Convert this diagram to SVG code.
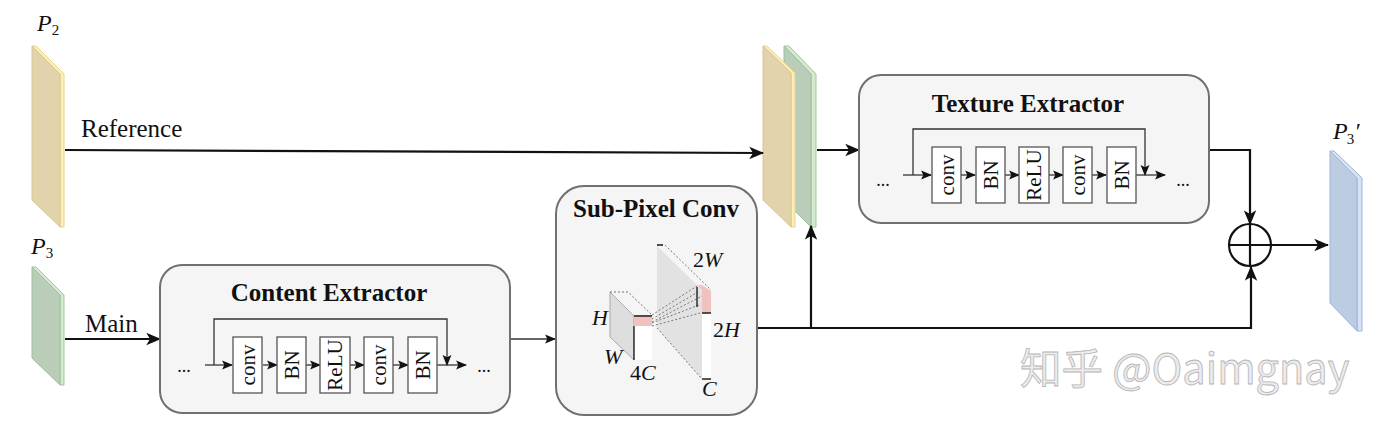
<svg xmlns="http://www.w3.org/2000/svg" width="1386" height="432" viewBox="0 0 1386 432">
<style>
text{font-family:"Liberation Serif",serif;fill:#111}
.panel{fill:#f5f5f5;stroke:#707070;stroke-width:2}
.title{font-size:25px;font-weight:bold;text-anchor:middle}
.lbl{font-size:25px}
.math{font-size:22px;font-style:italic}
.pl{font-size:24px;font-style:italic}
.sub{font-size:15px}
.step{fill:#fff;stroke:#555;stroke-width:1.3}
.steptxt{font-size:21px;text-anchor:middle;dominant-baseline:central}
.dots{font-size:18px;text-anchor:middle}
.wire{fill:none;stroke:#111;stroke-width:2.2}
.thin{fill:none;stroke:#333;stroke-width:1.3}
.y1{fill:#e3d3ad;stroke:#d8c690}.y2{fill:#fdeeb8;stroke:#e5d48e}
.g1{fill:#b9cdb9;stroke:#9cc09c}.g2{fill:#d5e8d0;stroke:#a3c79a}
.b1{fill:#bccde3;stroke:#9db4d6}.b2{fill:#d6e3f6;stroke:#9db4d6}
.dash{fill:none;stroke:#777;stroke-width:1;stroke-dasharray:2 2}
</style>
<defs>
<marker id="a" viewBox="0 0 12 10" refX="11" refY="5" markerWidth="15" markerHeight="13" markerUnits="userSpaceOnUse" orient="auto"><path d="M0 0L12 5L0 10L3 5Z" fill="#111"/></marker>
<marker id="s" viewBox="0 0 10 8" refX="9" refY="4" markerWidth="11" markerHeight="10" markerUnits="userSpaceOnUse" orient="auto"><path d="M0 0L10 4L0 8L2 4Z" fill="#111"/></marker>
</defs>

<g id="p2">
<path class="y2" d="M32 46L36 46L64 74L64 227L60 227L60 74Z"/>
<path class="y1" d="M32 46L60 74L60 227L32 200Z"/>
<text class="pl" x="37" y="31">P<tspan class="sub" dy="4" font-style="normal">2</tspan></text>
</g>
<g id="p3">
<path class="g2" d="M32 267L36 267L64 295L64 385L60 385L60 295Z"/>
<path class="g1" d="M32 267L60 295L60 385L32 358Z"/>
<text class="pl" x="31" y="254">P<tspan class="sub" dy="4" font-style="normal">3</tspan></text>
</g>
<g id="concat-green">
<path class="g2" d="M784 46L789 46L816 74L816 227L811 227L811 74Z"/>
<path class="g1" d="M784 46L811 74L811 227L784 200Z"/>
</g>
<g id="concat-yellow">
<path class="y2" d="M763 46L767 46L795 73L795 227L791 227L791 73Z"/>
<path class="y1" d="M763 46L791 73L791 227L763 200Z"/>
</g>
<g id="p3prime">
<path class="b2" d="M1330 151L1334 151L1362 178L1362 331L1357 331L1357 178Z"/>
<path class="b1" d="M1330 151L1357 178L1357 331L1330 303Z"/>
<text class="pl" x="1333" y="139">P<tspan class="sub" dy="5" dx="-1" font-style="normal">3</tspan><tspan dy="-5">′</tspan></text>
</g>

<g id="connectors">
<path class="wire" d="M65 150L763 153" marker-end="url(#a)"/>
<text class="lbl" x="81" y="137">Reference</text>
<path class="wire" d="M65 339L160 339" marker-end="url(#a)"/>
<text class="lbl" x="85" y="332">Main</text>
<path class="thin" d="M510 339L555 339" marker-end="url(#s)"/>
<path class="wire" d="M757 328L1251 328L1251 267" marker-end="url(#a)"/>
<path class="wire" d="M811 328L811 226" marker-end="url(#a)"/>
<path class="wire" d="M817 150L859 150" marker-end="url(#a)"/>
<path class="wire" d="M1209 150L1250 150L1250 224" marker-end="url(#a)"/>
<path class="wire" d="M1272 245L1328 245" marker-end="url(#a)"/>
</g>

<g id="content-extractor">
<rect class="panel" x="160" y="265" width="350" height="148" rx="22"/>
<text class="title" x="329" y="301">Content Extractor</text>
<text class="dots" x="184" y="372">...</text>
<text class="dots" x="484" y="372">...</text>
<path class="thin" d="M205 365L232 365" marker-end="url(#s)"/>
<path class="thin" d="M214 365L214 319L447 319L447 365" marker-end="url(#s)"/>
<path class="thin" d="M263 365L277 365" marker-end="url(#s)"/>
<path class="thin" d="M306 365L320 365" marker-end="url(#s)"/>
<path class="thin" d="M350 365L364 365" marker-end="url(#s)"/>
<path class="thin" d="M393 365L408 365" marker-end="url(#s)"/>
<path class="thin" d="M437 365L466 365" marker-end="url(#s)"/>
<rect class="step" x="233" y="337" width="29" height="56"/><text class="steptxt" transform="translate(248 365) rotate(-90)">conv</text>
<rect class="step" x="277" y="337" width="29" height="56"/><text class="steptxt" transform="translate(292 365) rotate(-90)">BN</text>
<rect class="step" x="320" y="337" width="30" height="56"/><text class="steptxt" transform="translate(335 365) rotate(-90)">ReLU</text>
<rect class="step" x="364" y="337" width="29" height="56"/><text class="steptxt" transform="translate(379 365) rotate(-90)">conv</text>
<rect class="step" x="408" y="337" width="29" height="56"/><text class="steptxt" transform="translate(423 365) rotate(-90)">BN</text>
</g>

<g id="texture-extractor">
<rect class="panel" x="859" y="75" width="350" height="148" rx="22"/>
<text class="title" x="1028" y="112">Texture Extractor</text>
<text class="dots" x="883" y="186">...</text>
<text class="dots" x="1183" y="186">...</text>
<path class="thin" d="M903 175L931 175" marker-end="url(#s)"/>
<path class="thin" d="M913 175L913 129L1145 129L1145 175" marker-end="url(#s)"/>
<path class="thin" d="M961 175L975 175" marker-end="url(#s)"/>
<path class="thin" d="M1005 175L1019 175" marker-end="url(#s)"/>
<path class="thin" d="M1048 175L1063 175" marker-end="url(#s)"/>
<path class="thin" d="M1092 175L1106 175" marker-end="url(#s)"/>
<path class="thin" d="M1136 175L1165 175" marker-end="url(#s)"/>
<rect class="step" x="932" y="147" width="29" height="56"/><text class="steptxt" transform="translate(947 175) rotate(-90)">conv</text>
<rect class="step" x="976" y="147" width="29" height="56"/><text class="steptxt" transform="translate(991 175) rotate(-90)">BN</text>
<rect class="step" x="1019" y="147" width="30" height="56"/><text class="steptxt" transform="translate(1034 175) rotate(-90)">ReLU</text>
<rect class="step" x="1063" y="147" width="29" height="56"/><text class="steptxt" transform="translate(1078 175) rotate(-90)">conv</text>
<rect class="step" x="1107" y="147" width="29" height="56"/><text class="steptxt" transform="translate(1122 175) rotate(-90)">BN</text>
</g>

<g id="sub-pixel-conv">
<rect class="panel" x="556" y="186" width="201" height="229" rx="28"/>
<text class="title" x="656" y="217">Sub-Pixel Conv</text>
<path d="M657 246L702 290L702 379L657 328Z" fill="#e2e2e2"/>
<path d="M702 290L711 290L711 379L702 379Z" fill="#fff"/>
<path d="M697 285L702 285L711 291L711 313L702 313L702 290Z" fill="#f0c2bd"/>
<path d="M610 292L634 316L634 360L610 337Z" fill="#dedede" stroke="#999" stroke-width=".8"/>
<path d="M634 326L652 326L652 360L634 360Z" fill="#fff"/>
<path d="M634 315L652 315L652 326L634 326Z" fill="#f0c2bd"/>
<path class="dash" d="M610 292L628 292L652 315M657 245L665 245L711 290M657 328L702 379M652 315L697 286M652 319L698 292M652 323L699 305M652 326L700 313M652 322L702 296"/>
<path d="M634 316L652 316M634 326L634 360M697 287L697 307M702 313L711 313M702 379L711 379M657 245L663 245" fill="none" stroke="#222" stroke-width="1.4"/>
<text class="math" x="592" y="325">H</text>
<text class="math" x="604" y="364">W</text>
<text class="math" x="630" y="380"><tspan font-style="normal">4</tspan>C</text>
<text class="math" x="693" y="267"><tspan font-style="normal">2</tspan>W</text>
<text class="math" x="713" y="337"><tspan font-style="normal">2</tspan>H</text>
<text class="math" x="702" y="396">C</text>
</g>

<g id="sum">
<circle cx="1250" cy="245" r="21" fill="#fff" stroke="#111" stroke-width="2.2"/>
<path d="M1229 245L1271 245M1250 224L1250 266" stroke="#111" stroke-width="2.2"/>
</g>

<text x="1020" y="384" font-size="41.5" style="font-family:'Noto Sans CJK SC','Liberation Sans',sans-serif;fill:#ececec;stroke:#b5b5b5;stroke-width:.8">知乎 @Oaimgnay</text>
</svg>
